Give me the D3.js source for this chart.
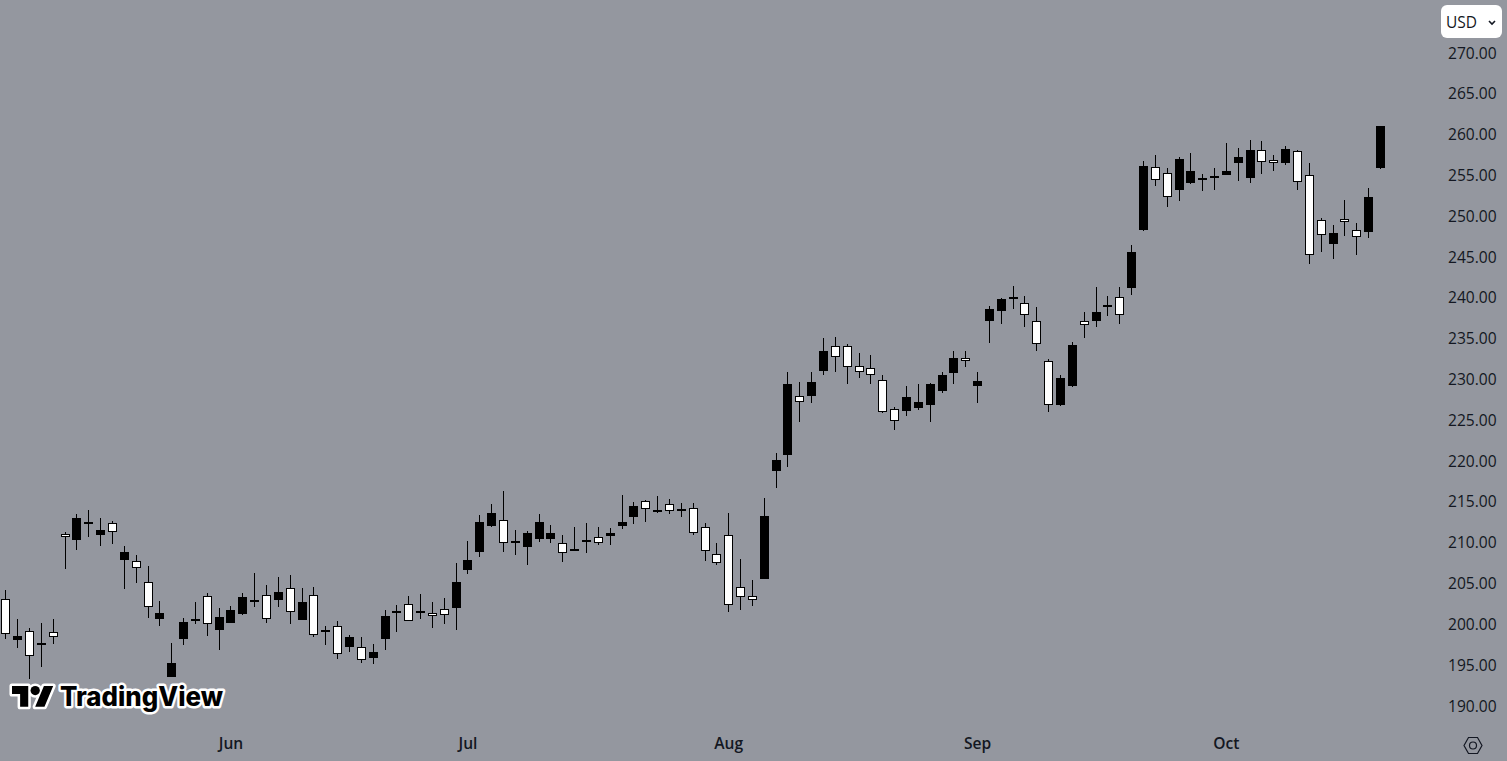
<!DOCTYPE html>
<html>
<head>
<meta charset="utf-8">
<script src="https://cdn.jsdelivr.net/npm/d3@7"></script>
<style>
html,body{margin:0;padding:0;background:#94979f;overflow:hidden}
svg{display:block}
text{font-family:"Open Sans",Roboto,sans-serif}
</style>
</head>
<body>
<div id="chart"></div>
<script>
const opens=[203.07,198.09,199.15,197.51,199.03,211.04,210.34,212.42,210.99,212.38,207.89,207.72,205.15,200.70,193.59,198.25,200.45,203.51,199.35,200.21,
201.31,202.87,203.56,203.02,204.42,200.57,203.56,199.22,199.76,197.27,197.19,195.92,198.25,201.43,202.53,201.52,201.43,201.92,202.05,206.70,
208.90,212.09,212.75,210.13,209.52,210.50,210.50,209.93,209.11,210.13,210.67,210.86,212.09,213.19,215.08,213.81,214.71,214.01,214.22,211.89,
208.58,210.91,204.54,203.44,205.60,218.83,220.79,227.94,228.01,231.08,234.07,234.07,231.69,231.37,229.97,226.35,226.18,226.55,226.91,228.63,
230.83,232.60,229.24,237.20,238.43,240.07,239.34,237.13,232.23,226.91,229.24,237.13,237.20,239.00,240.07,241.25,248.35,255.99,255.26,253.25,
254.11,254.44,254.69,255.09,256.56,254.72,258.08,256.85,256.56,257.96,255.02,249.50,246.64,249.62,248.28,248.11,255.95];
const highs=[204.21,200.66,199.52,200.14,200.62,211.28,213.52,213.98,212.99,212.63,209.60,208.46,207.12,202.83,197.68,200.74,202.71,203.84,201.97,202.22,
203.84,206.29,204.79,205.77,206.01,204.43,204.54,199.76,200.38,198.66,198.42,197.60,201.73,202.34,203.44,203.69,202.74,203.19,207.48,210.18,
213.36,214.75,216.34,211.53,211.40,213.48,212.14,210.91,211.93,212.42,211.89,211.77,215.85,214.96,215.24,215.69,215.32,214.84,214.84,212.38,
209.93,213.61,207.97,205.40,215.45,220.96,230.98,229.69,230.88,235.05,235.17,234.31,233.21,232.97,230.50,226.59,229.17,229.41,229.53,230.98,
233.45,233.45,230.88,238.97,239.95,241.42,240.19,238.84,232.48,230.50,234.56,238.23,241.30,240.19,241.30,246.44,256.73,257.47,255.87,257.22,
257.71,255.14,255.97,258.94,258.32,259.30,259.18,257.47,258.57,258.08,256.50,249.75,248.89,251.95,249.14,253.42,261.05];
const lows=[198.25,197.14,193.31,194.81,197.63,206.82,209.15,210.74,209.64,209.89,204.37,205.11,200.82,199.84,193.59,197.51,200.01,198.61,196.90,200.21,
201.11,202.17,200.21,202.13,200.05,200.54,198.49,197.51,195.79,196.62,195.30,195.14,196.86,199.07,200.38,200.70,199.59,200.08,199.35,206.21,
208.25,211.97,208.90,208.54,207.31,210.09,210.01,207.68,209.02,208.78,209.76,209.76,211.72,212.30,212.58,213.68,213.52,213.19,210.99,207.80,
207.31,201.55,201.80,202.29,205.56,216.71,219.32,224.83,227.16,230.59,230.95,229.49,230.22,229.49,225.93,223.85,225.57,226.30,224.83,228.38,
229.49,231.57,227.16,234.51,236.84,238.67,236.47,233.53,226.06,226.79,229.12,235.12,236.47,237.82,236.84,240.39,248.23,253.74,251.17,251.90,
253.99,253.13,253.25,255.09,254.35,254.11,255.21,255.58,256.32,253.25,244.19,245.66,244.80,247.62,245.29,247.37,255.82];
const closes=[198.86,198.58,196.16,197.68,198.49,210.74,213.03,212.51,211.53,211.28,208.87,206.87,202.09,201.36,195.27,200.25,200.62,200.01,200.87,201.73,
203.32,202.99,200.62,203.97,201.48,202.74,198.73,199.31,196.40,198.42,195.60,196.58,200.99,201.64,200.38,201.64,200.99,201.11,205.15,207.85,
212.51,213.61,209.93,210.22,211.16,212.51,211.16,208.71,209.20,210.30,210.00,211.19,212.54,214.47,214.17,213.98,213.93,214.10,211.23,209.02,
207.55,202.41,203.39,202.95,213.24,220.10,229.41,227.21,229.66,233.45,232.79,231.57,230.96,230.59,226.06,224.95,227.82,227.20,229.41,230.50,
232.60,232.23,229.78,238.60,239.82,239.83,237.94,234.38,226.84,230.14,234.19,236.71,238.23,239.09,237.94,245.58,256.12,254.48,252.39,256.98,
255.51,254.69,254.93,255.51,257.22,258.08,256.68,256.56,258.20,254.16,245.29,247.74,247.91,249.33,247.49,252.32,261.05];
const priceTicks=[190,195,200,205,210,215,220,225,230,235,240,245,250,255,260,265,270];
const monthIndex=[19,39,61,82,103];
const monthLabels=["Jun","Jul","Aug","Sep","Oct"];
const currency="USD";
const brand="TradingView";

const W=1507,H=761,BG="#94979f",INK="#131722";
const svg=d3.select("#chart").append("svg").attr("width",W).attr("height",H).style("background",BG);
const x=d3.scaleLinear().domain([0,opens.length-1]).range([5.3,1380]);
const y=d3.scaleLinear().domain([190,270]).range([706,53]);
const cx=i=>Math.round(x(i));
const py=v=>Math.round(y(v));
const BW=9;

const candles=svg.append("g").attr("shape-rendering","crispEdges")
  .selectAll("g").data(d3.range(opens.length)).join("g");
candles.append("rect").attr("x",i=>cx(i)).attr("width",1)
  .attr("y",i=>py(highs[i])).attr("height",i=>Math.max(1,py(lows[i])-py(highs[i])))
  .attr("fill","#000");
function bodyTop(i){return py(Math.max(opens[i],closes[i]));}
function bodyH(i){return Math.max(2,py(Math.min(opens[i],closes[i]))-bodyTop(i));}
candles.append("rect").attr("x",i=>cx(i)-4).attr("width",BW)
  .attr("y",bodyTop).attr("height",bodyH).attr("fill","#000");
candles.filter(i=>closes[i]<opens[i]).append("rect")
  .attr("x",i=>cx(i)-3).attr("width",BW-2)
  .attr("y",i=>bodyTop(i)+1).attr("height",i=>Math.max(0,bodyH(i)-2)).attr("fill","#fff");

// price axis
const yAxis=d3.axisRight(y).tickValues(priceTicks).tickSize(0).tickPadding(0).tickFormat(d3.format(".2f"));
const gy=svg.append("g").attr("transform","translate(1448,0)").call(yAxis);
gy.select(".domain").remove();
gy.selectAll("text").attr("font-size",15.6).attr("fill",INK).style("font-family",'"Open Sans",Roboto,sans-serif');

// time axis
const xAxis=d3.axisBottom(x).tickValues(monthIndex).tickSize(0).tickPadding(0)
  .tickFormat(d=>monthLabels[monthIndex.indexOf(d)]);
const gx=svg.append("g").attr("transform","translate(0,738)").call(xAxis);
gx.select(".domain").remove();
gx.selectAll("text").attr("font-size",15.6).attr("fill",INK).style("font-family",'"Open Sans",Roboto,sans-serif').style("font-weight",600);

// currency box
const box=svg.append("g");
box.append("rect").attr("x",1441).attr("y",5).attr("width",61).attr("height",33).attr("rx",6).attr("fill","#fff");
box.append("text").attr("x",1446).attr("y",27.5).attr("font-size",15.5).attr("fill",INK).text(currency);
box.append("path").attr("d","M1489 21l3 3 3-3").attr("fill","none").attr("stroke",INK).attr("stroke-width",1.6);

// watermark
const logo=svg.append("g");
const mark=logo.append("g").attr("transform","translate(12,681.3) scale(1.16)");
const markD="M14 22H7V11H0V4h14v18zM28 22h-8l7.5-18h8L28 22z";
mark.append("path").attr("d",markD).attr("fill","#fff").attr("stroke","#fff").attr("stroke-width",4.4).attr("stroke-linejoin","round");
mark.append("circle").attr("cx",20).attr("cy",8).attr("r",4).attr("fill","#fff").attr("stroke","#fff").attr("stroke-width",4.4);
mark.append("path").attr("d",markD).attr("fill","#000");
mark.append("circle").attr("cx",20).attr("cy",8).attr("r",4).attr("fill","#000");
logo.append("text").attr("x",60).attr("y",706).attr("font-size",26.5)
  .attr("font-weight",800).attr("textLength",163).attr("lengthAdjust","spacingAndGlyphs")
  .style("font-family","Inter,Roboto,sans-serif")
  .attr("fill","#000").attr("stroke","#fff").attr("stroke-width",5).attr("stroke-linejoin","round")
  .style("paint-order","stroke").text(brand);

// scale settings icon
const gear=svg.append("g").attr("transform","translate(1473,745.5)").attr("fill","none").attr("stroke",INK).attr("stroke-width",1.2);
gear.append("path").attr("d","M-9 0L-4.5-8H4.5L9 0L4.5 8H-4.5Z");
gear.append("circle").attr("r",3.5);
</script>
</body>
</html>
